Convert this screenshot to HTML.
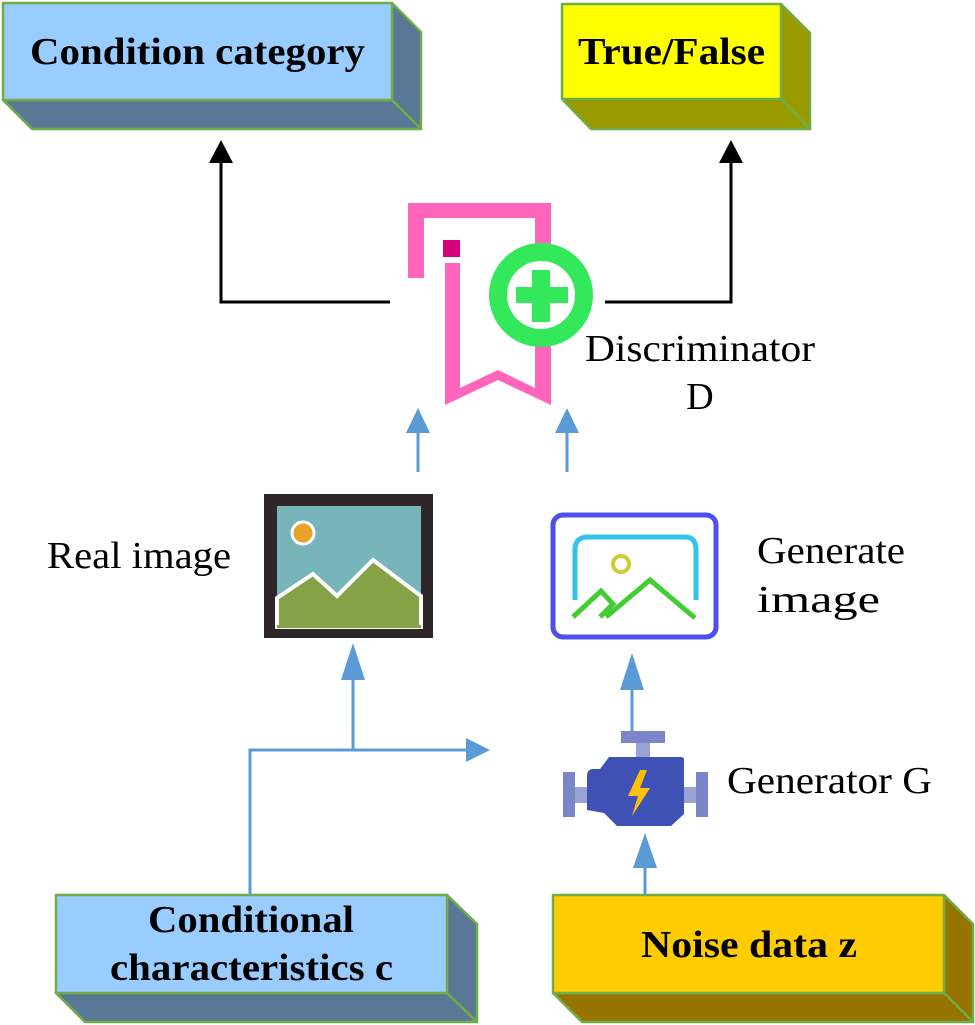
<!DOCTYPE html>
<html><head><meta charset="utf-8"><style>
html,body{margin:0;padding:0;background:#fff;}
svg{display:block;}
text{font-family:"Liberation Serif",serif;}
</style></head><body>
<svg width="975" height="1025" viewBox="0 0 975 1025" xmlns="http://www.w3.org/2000/svg">
<g stroke="#70ad47" stroke-width="2.5" stroke-linejoin="round">
<polygon points="3,100 32,129 421,129 392,100" fill="#5a7896"/>
<polygon points="392,3 421,32 421,129 392,100" fill="#5a7896"/>
<rect x="3" y="3" width="389" height="97" fill="#99ccff"/>
</g>
<text x="30" y="64" font-size="38" font-weight="bold" textLength="335" lengthAdjust="spacingAndGlyphs">Condition category</text>
<g stroke="#70ad47" stroke-width="2.5" stroke-linejoin="round">
<polygon points="562,99 591,129 810,129 781,99" fill="#999900"/>
<polygon points="781,4 810,33 810,129 781,99" fill="#999900"/>
<rect x="562" y="4" width="219" height="95" fill="#ffff00"/>
</g>
<text x="578" y="64" font-size="38" font-weight="bold" textLength="187" lengthAdjust="spacingAndGlyphs">True/False</text>
<g stroke="#70ad47" stroke-width="2.5" stroke-linejoin="round">
<polygon points="56,993 85,1022 477,1022 447,993" fill="#5a7896"/>
<polygon points="447,895 477,924 477,1022 447,993" fill="#5a7896"/>
<rect x="56" y="895" width="391" height="98" fill="#99ccff"/>
</g>
<text x="148" y="932" font-size="38" font-weight="bold" textLength="206" lengthAdjust="spacingAndGlyphs">Conditional</text>
<text x="110" y="980" font-size="38" font-weight="bold" textLength="283" lengthAdjust="spacingAndGlyphs">characteristics c</text>
<g stroke="#70ad47" stroke-width="2.5" stroke-linejoin="round">
<polygon points="553,993 582,1022 973,1022 944,993" fill="#967400"/>
<polygon points="944,895 973,924 973,1022 944,993" fill="#967400"/>
<rect x="553" y="895" width="391" height="98" fill="#ffcc00"/>
</g>
<text x="641" y="957" font-size="38" font-weight="bold" textLength="216" lengthAdjust="spacingAndGlyphs">Noise data z</text>

<g stroke="#000" stroke-width="3" fill="none">
<polyline points="390,302 221,302 221,160"/>
<polyline points="605,302 731,302 731,160"/>
</g>
<polygon points="221,140 209,163 233,163" fill="#000"/>
<polygon points="731,140 719,163 743,163" fill="#000"/>

<polygon points="408,203 551,203 551,405 498,380 445,405 445,263 460,263 460,388 498,370 535,388 535,218 424,218 424,278 408,278" fill="#ff66bb"/>
<rect x="443" y="240" width="17" height="17" fill="#d6007a"/>
<circle cx="541" cy="295" r="43" fill="#fff" stroke="#33e85a" stroke-width="18"/>
<rect x="516" y="287" width="52" height="16" fill="#33e85a"/>
<rect x="532" y="270" width="18" height="52" fill="#33e85a"/>
<text x="585" y="361" font-size="38" textLength="230" lengthAdjust="spacingAndGlyphs">Discriminator</text>
<text x="700" y="409" font-size="38" text-anchor="middle">D</text>

<g stroke="#5b9bd5" stroke-width="3" fill="none">
<line x1="418" y1="472" x2="418" y2="428"/>
<line x1="567" y1="472" x2="567" y2="428"/>
<line x1="353" y1="750" x2="353" y2="675"/>
<polyline points="250,895 250,750 470,750"/>
<line x1="632" y1="735" x2="632" y2="685"/>
<line x1="645" y1="895" x2="645" y2="865"/>
</g>
<g fill="#5b9bd5">
<polygon points="418,408 406,433 430,433"/>
<polygon points="567,408 555,433 579,433"/>
<polygon points="353,643 341,680 365,680"/>
<polygon points="490,750 466,738 466,762"/>
<polygon points="632,653 620,690 644,690"/>
<polygon points="645,833 633,868 657,868"/>
</g>

<text x="47" y="568" font-size="38" textLength="184" lengthAdjust="spacingAndGlyphs">Real image</text>
<rect x="264" y="494" width="169" height="144" fill="#2e2629"/>
<rect x="277" y="506" width="144" height="121" fill="#78b5bb"/>
<polygon points="277,598 313,574 337,596 373,560 421,596 421,627 277,627" fill="#85a346" stroke="#fff" stroke-width="4"/>
<rect x="277" y="625" width="144" height="3" fill="#85a346"/>
<circle cx="303" cy="533" r="11" fill="#e8a22a" stroke="#fff" stroke-width="3"/>

<rect x="553" y="515" width="163" height="122" rx="10" fill="#fff" stroke="#4f4ff0" stroke-width="5"/>
<path d="M575,600 V550 Q575,537 588,537 H685 Q696,537 696,550 V600" fill="none" stroke="#33c3e8" stroke-width="5"/>
<circle cx="621" cy="564" r="8" fill="none" stroke="#cccc33" stroke-width="4"/>
<polyline points="573,617 601,591 613,604 600,617" fill="none" stroke="#44cc33" stroke-width="5"/>
<polyline points="606,617 650,580 695,618" fill="none" stroke="#44cc33" stroke-width="5"/>
<text x="757" y="563" font-size="38" textLength="148" lengthAdjust="spacingAndGlyphs">Generate</text>
<text x="757" y="612" font-size="38" textLength="123" lengthAdjust="spacingAndGlyphs">image</text>

<rect x="621" y="731" width="44" height="12" fill="#7b86c9"/>
<rect x="636" y="743" width="14" height="14" fill="#9aa3d6"/>
<rect x="563" y="772" width="12" height="45" fill="#7b86c9"/>
<rect x="575" y="787" width="12" height="16" fill="#9aa3d6"/>
<rect x="696" y="772" width="12" height="45" fill="#7b86c9"/>
<rect x="684" y="787" width="12" height="16" fill="#9aa3d6"/>
<path d="M609,757 H681 Q684,757 684,760 V814 L671,826 H617 L604,813 L587,810 V776 Q587,770 592,769 H600 Z" fill="#3f51b5"/>
<polygon points="640,770 628,796 638,796 632,816 650,788 640,788 647,770" fill="#ffc107"/>
<text x="727" y="793" font-size="38" textLength="205" lengthAdjust="spacingAndGlyphs">Generator G</text>
</svg>
</body></html>
